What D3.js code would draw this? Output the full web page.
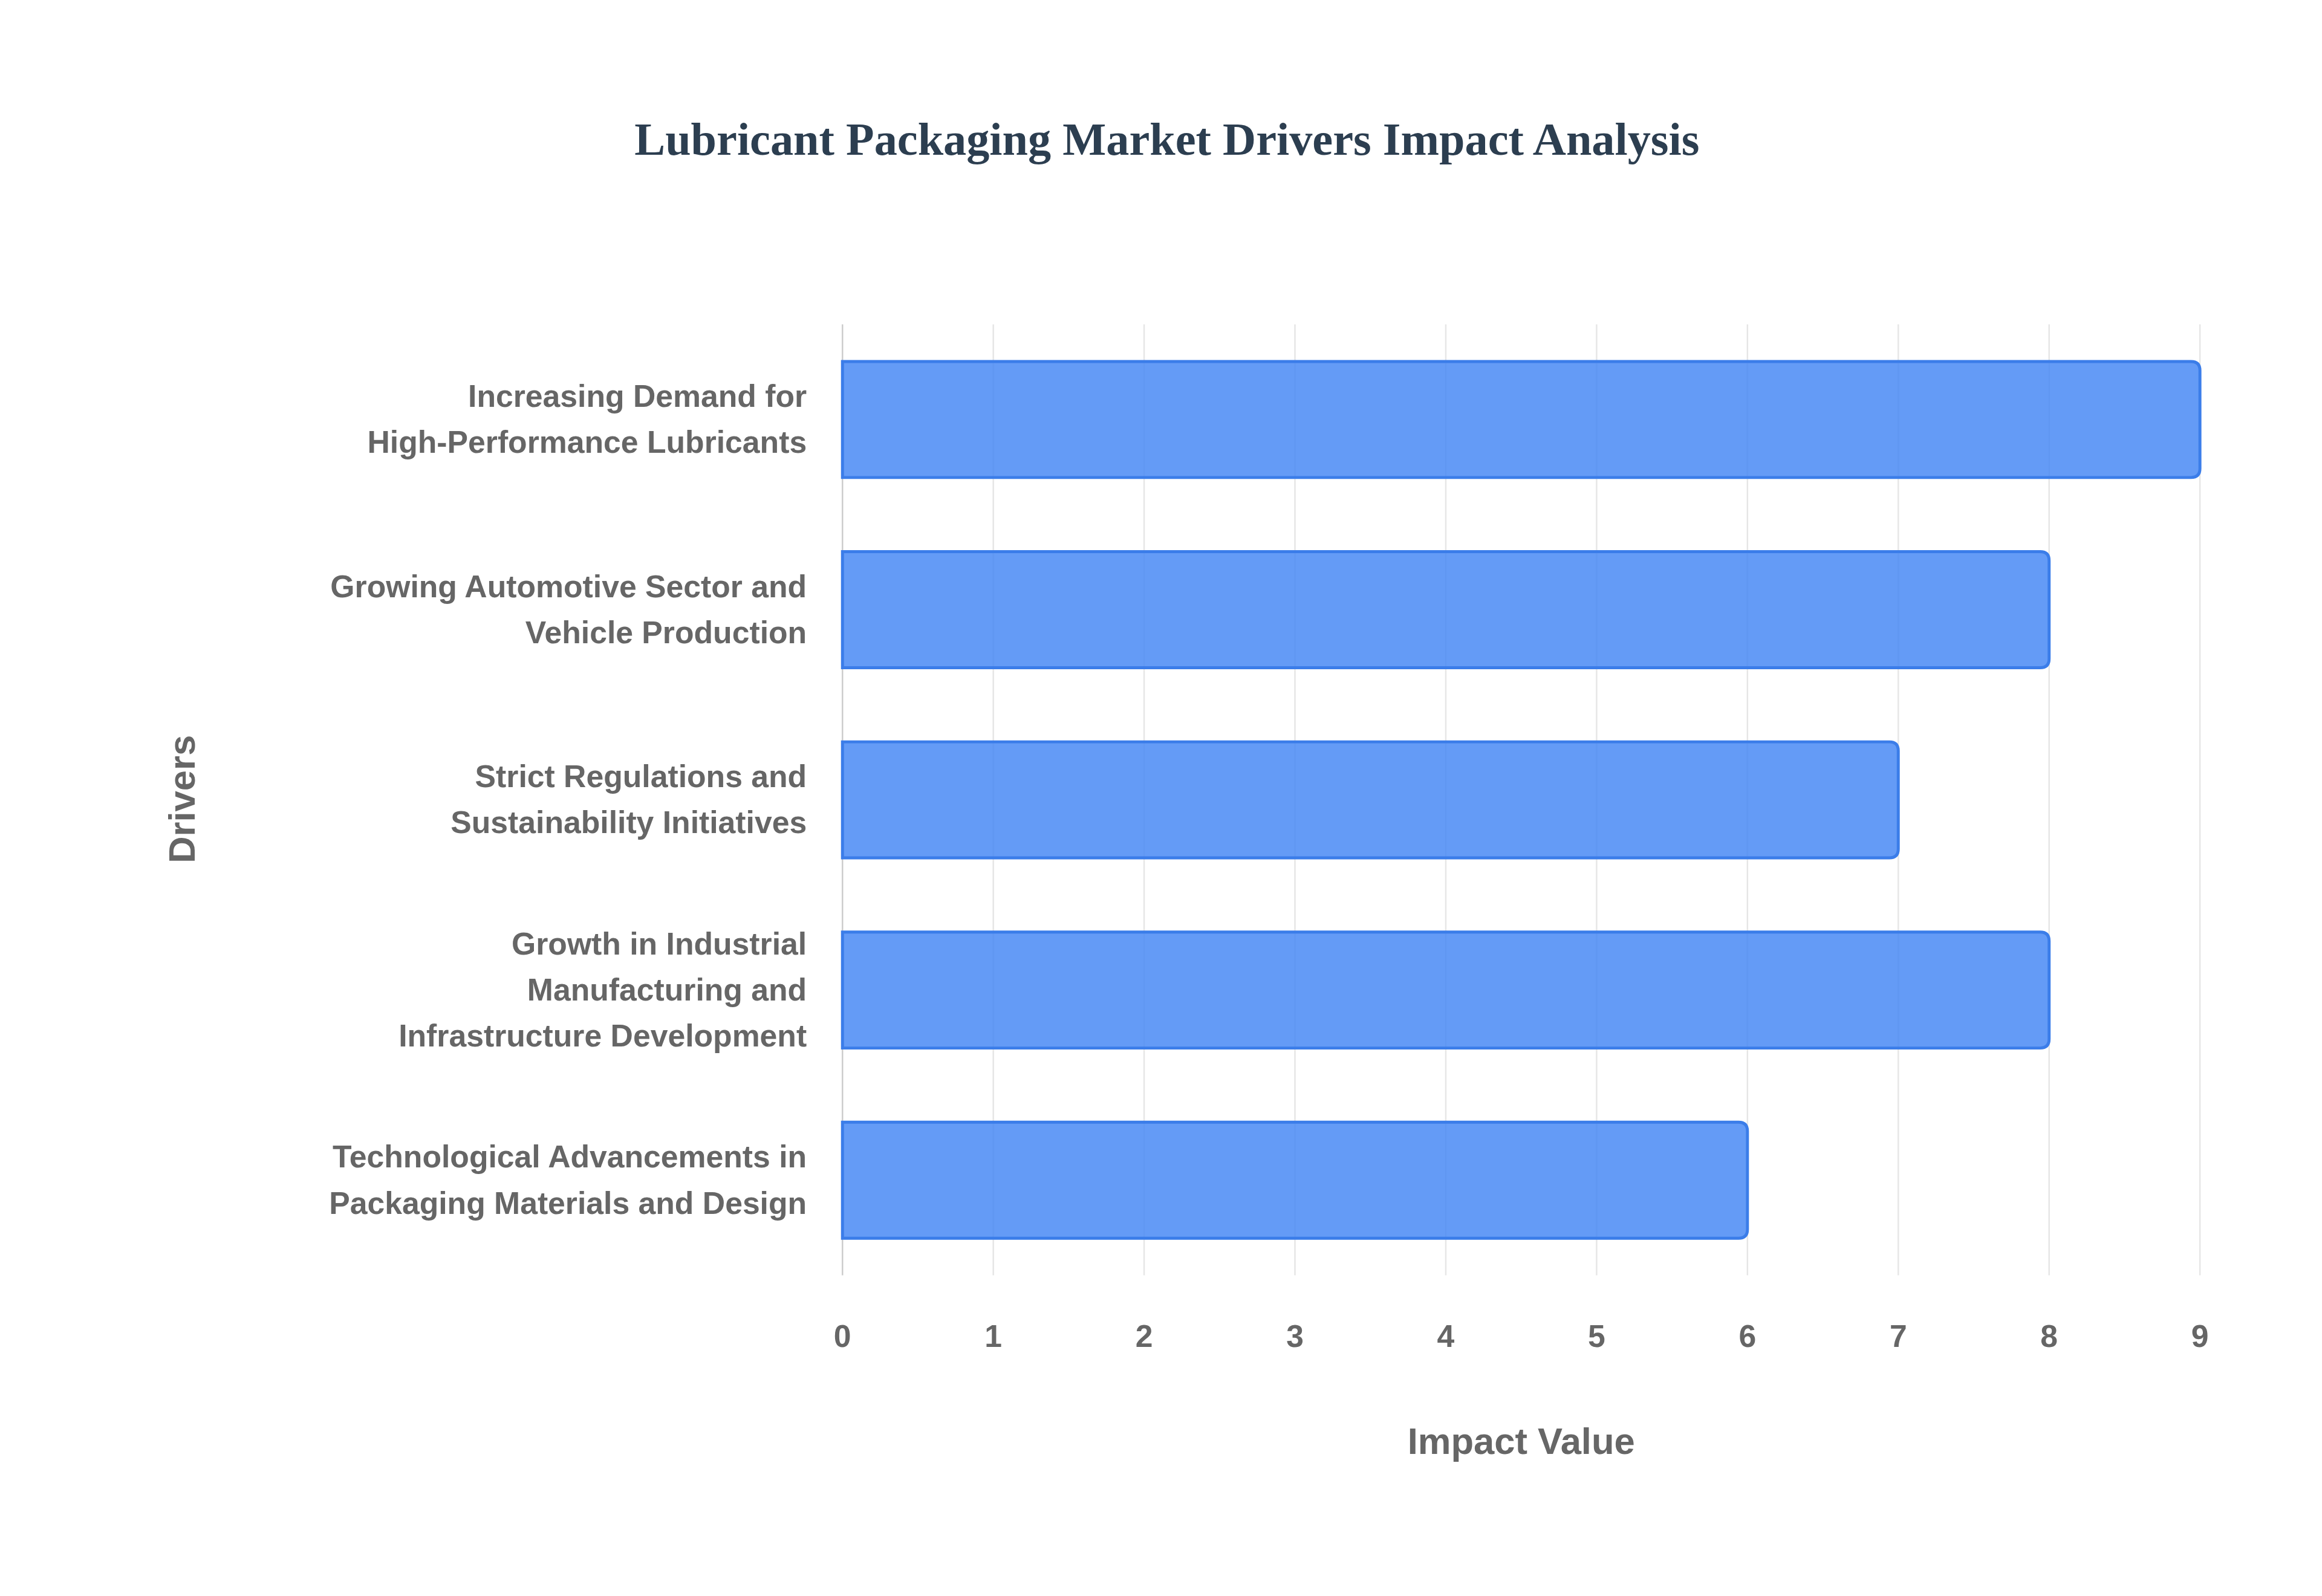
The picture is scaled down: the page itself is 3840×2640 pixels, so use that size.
<!DOCTYPE html>
<html><head><meta charset="utf-8">
<script src="https://cdn.jsdelivr.net/npm/d3@7"></script>
<style>body{margin:0;background:#fff}</style></head>
<body><div id="c"></div>
<script>
const categories = [
  ["Increasing Demand for","High-Performance Lubricants"],
  ["Growing Automotive Sector and","Vehicle Production"],
  ["Strict Regulations and","Sustainability Initiatives"],
  ["Growth in Industrial","Manufacturing and","Infrastructure Development"],
  ["Technological Advancements in","Packaging Materials and Design"]
];
const values = [9, 8, 7, 8, 6];
const xTicks = [0,1,2,3,4,5,6,7,8,9];

const W = 1560, H = 1072.5;
const svg = d3.select("#c").append("svg")
  .attr("width", 3840).attr("height", 2640)
  .attr("viewBox", `0 0 ${W} ${H}`);
const m = {l:566, r:1478, t:218, b:857};
const x = d3.scaleLinear().domain([0,9]).range([m.l, m.r]);
const y = d3.scaleBand().domain(d3.range(categories.length)).range([m.t, m.b]).paddingInner(0.39).paddingOuter(0.195);
const font = "Arial, 'Liberation Sans', sans-serif";

svg.append("g").selectAll("line").data(xTicks).join("line")
  .attr("x1", d=>x(d)).attr("x2", d=>x(d)).attr("y1", m.t).attr("y2", m.b)
  .attr("stroke", d=>d===0?"#cccccc":"#e6e6e6").attr("stroke-width",1);

const r = 6;
svg.append("g").selectAll("path").data(values).join("path")
  .attr("d", (d,i)=>{
    const x0=x(0), x1=x(d), y0=y(i), h=y.bandwidth();
    return `M${x0},${y0}H${x1-r}Q${x1},${y0} ${x1},${y0+r}V${y0+h-r}Q${x1},${y0+h} ${x1-r},${y0+h}H${x0}Z`;
  })
  .attr("fill","rgba(66,133,244,0.82)").attr("stroke","#3b7de9").attr("stroke-width",2);

svg.append("g").selectAll("text").data(xTicks).join("text")
  .attr("x", d=>x(d)).attr("y", 905).attr("text-anchor","middle")
  .attr("font-family",font).attr("font-weight","bold").attr("font-size",21).attr("fill","#666")
  .text(d=>d);

const lh = 31;
categories.forEach((lines,i)=>{
  const cy = y(i)+y.bandwidth()/2;
  const t = svg.append("text").attr("text-anchor","end")
    .attr("font-family",font).attr("font-weight","bold").attr("font-size",21).attr("fill","#666");
  lines.forEach((s,j)=>{
    t.append("tspan").attr("x",542).attr("y", cy + (j-(lines.length-1)/2)*lh + 7).text(s);
  });
});

svg.append("text").attr("x",784).attr("y",104).attr("text-anchor","middle")
  .attr("font-family","'Times New Roman','Liberation Serif',serif").attr("font-weight","bold")
  .attr("font-size",31).attr("fill","#2c3e50").text("Lubricant Packaging Market Drivers Impact Analysis");

svg.append("text").attr("x",1022).attr("y",977).attr("text-anchor","middle")
  .attr("font-family",font).attr("font-weight","bold").attr("font-size",25).attr("fill","#666").text("Impact Value");

svg.append("text").attr("transform","translate(131,537) rotate(-90)").attr("text-anchor","middle")
  .attr("font-family",font).attr("font-weight","bold").attr("font-size",25).attr("fill","#666").text("Drivers");
</script></body></html>
